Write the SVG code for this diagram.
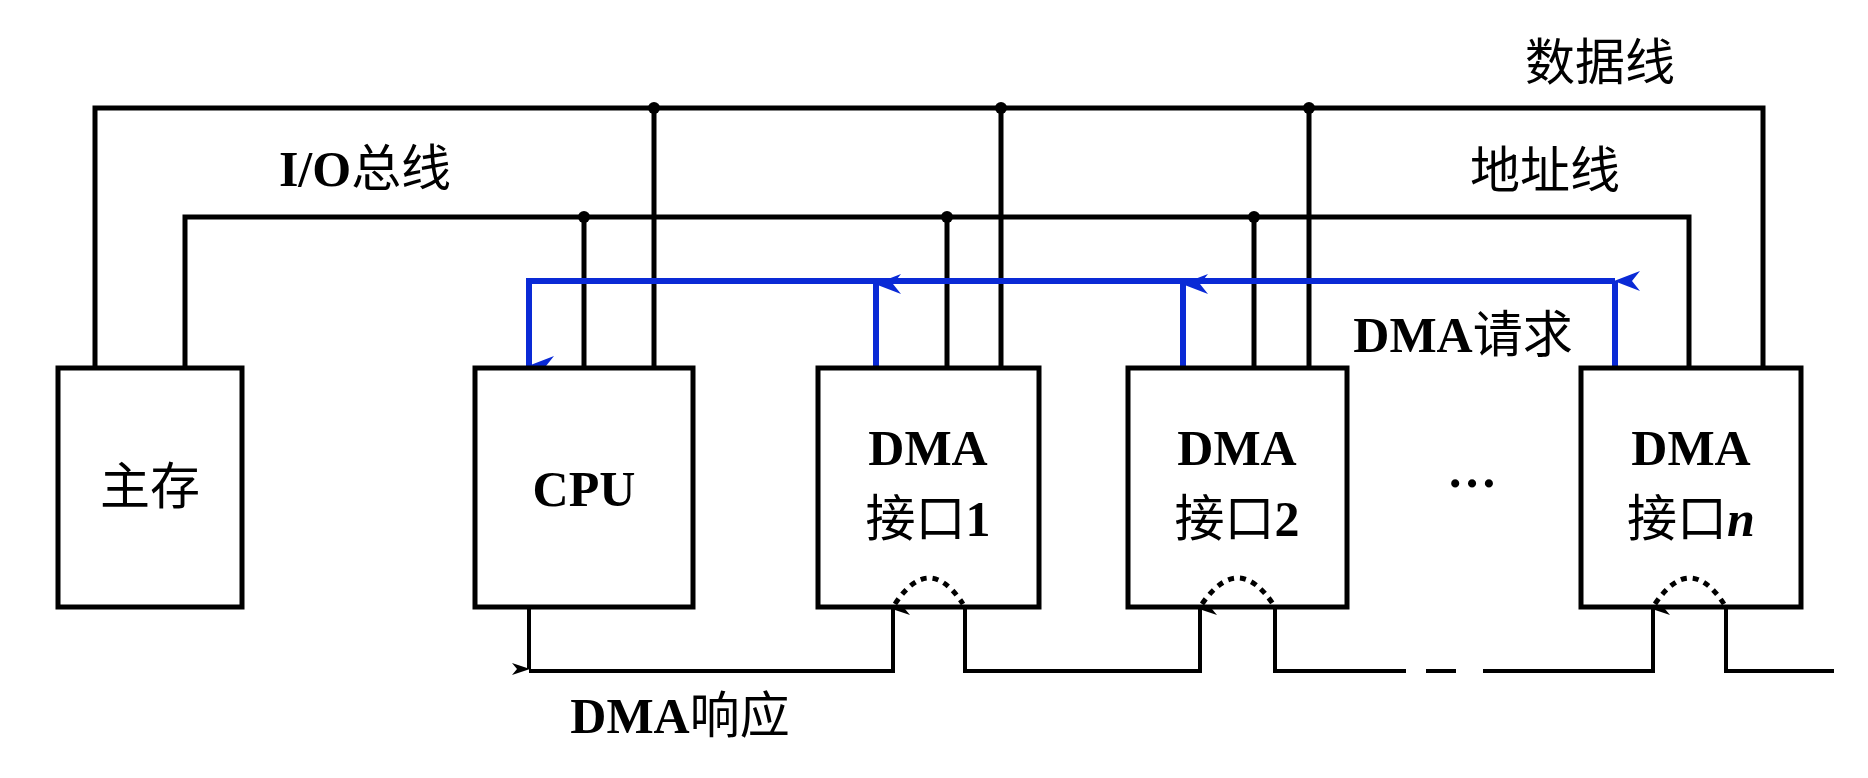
<svg xmlns="http://www.w3.org/2000/svg" width="1868" height="778" viewBox="0 0 1868 778">
<style>
.box{fill:#fff;stroke:#000;stroke-width:5}
.ln{fill:none;stroke:#000;stroke-width:5}
.thin{fill:none;stroke:#000;stroke-width:4}
.blue{fill:none;stroke:#0a2ad6;stroke-width:6}
.dot{fill:none;stroke:#000;stroke-width:5;stroke-dasharray:6 6}
text{font-family:"Liberation Serif","Noto Sans CJK SC",serif;font-weight:bold;font-size:50px;fill:#000;text-anchor:middle}
.cjk{font-family:"Noto Sans CJK SC","Liberation Serif",sans-serif;font-weight:normal}
</style>
<defs>
<marker id="ab" markerWidth="10" markerHeight="12" refX="5" refY="11" orient="auto-start-reverse" markerUnits="userSpaceOnUse" viewBox="0 0 10 12"><path d="M0,12 L5,0 L10,12 L5,9 Z" fill="#0a2ad6"/></marker>
<marker id="ak" markerWidth="12" markerHeight="18" refX="6" refY="1" orient="auto" markerUnits="userSpaceOnUse" viewBox="0 0 12 18"><path d="M6,0 L12,18 L6,13 L0,18 Z" fill="#000"/></marker>
<marker id="ad" markerWidth="20" markerHeight="26" refX="10" refY="25" orient="auto" markerUnits="userSpaceOnUse" viewBox="0 0 20 26"><path d="M10,26 L20,0 L10,8 L0,0 Z" fill="#0a2ad6"/></marker>
<marker id="au" markerWidth="20" markerHeight="26" refX="10" refY="1" orient="auto" markerUnits="userSpaceOnUse" viewBox="0 0 20 26"><path d="M10,0 L20,26 L10,18 L0,26 Z" fill="#0a2ad6"/></marker>
</defs>
<g id="connectors">
<polyline class="ln" points="95,368 95,108 1763,108 1763,368"/>
<polyline class="ln" points="185,368 185,217 1689,217 1689,368"/>
<line class="ln" x1="654" y1="108" x2="654" y2="368"/><line class="ln" x1="1001" y1="108" x2="1001" y2="368"/><line class="ln" x1="1309" y1="108" x2="1309" y2="368"/>
<line class="ln" x1="584" y1="217" x2="584" y2="368"/><line class="ln" x1="947" y1="217" x2="947" y2="368"/><line class="ln" x1="1254" y1="217" x2="1254" y2="368"/>
<g fill="#000"><circle cx="654" cy="108" r="6"/><circle cx="1001" cy="108" r="6"/><circle cx="1309" cy="108" r="6"/><circle cx="584" cy="217" r="6"/><circle cx="947" cy="217" r="6"/><circle cx="1254" cy="217" r="6"/></g>
<polyline class="blue" points="1615,281 529,281 529,366" marker-end="url(#ad)"/>
<line class="blue" x1="876" y1="368" x2="876" y2="284" marker-end="url(#au)"/>
<line class="blue" x1="1183" y1="368" x2="1183" y2="284" marker-end="url(#au)"/>
<line class="blue" x1="1615" y1="368" x2="1615" y2="281" marker-end="url(#au)"/>
<polyline class="thin" points="529,607 529,669" marker-end="url(#ak)"/>
<polyline class="thin" points="529,671 893,671 893,609" marker-end="url(#ak)"/>
<polyline class="thin" points="965,607 965,671 1200,671 1200,609" marker-end="url(#ak)"/>
<polyline class="thin" points="1275,607 1275,671 1406,671"/>
<line class="thin" x1="1426" y1="671" x2="1456" y2="671"/>
<polyline class="thin" points="1483,671 1653,671 1653,609" marker-end="url(#ak)"/>
<polyline class="thin" points="1726,607 1726,671 1834,671"/>
</g>
<g id="n-mem"><rect class="box" x="58" y="368" width="184" height="239"/><text class="cjk" x="150" y="504">主存</text></g>
<g id="n-cpu"><rect class="box" x="475" y="368" width="218" height="239"/><text x="584" y="506">CPU</text></g>
<g id="n-dma1"><rect class="box" x="818" y="368" width="221" height="239"/><text x="928" y="465">DMA</text><text x="928" y="536"><tspan class="cjk">接口</tspan>1</text><path class="dot" d="M895,604 Q929,552 963,604"/></g>
<g id="n-dma2"><rect class="box" x="1128" y="368" width="219" height="239"/><text x="1237" y="465">DMA</text><text x="1237" y="536"><tspan class="cjk">接口</tspan>2</text><path class="dot" d="M1202,604 Q1238,552 1273,604"/></g>
<g id="n-dman"><rect class="box" x="1581" y="368" width="220" height="239"/><text x="1691" y="465">DMA</text><text x="1691" y="536"><tspan class="cjk">接口</tspan><tspan font-style="italic">n</tspan></text><path class="dot" d="M1655,604 Q1690,552 1724,604"/></g>
<g id="labels">
<text class="cjk" x="1600" y="80">数据线</text>
<text class="cjk" x="1545" y="188">地址线</text>
<text x="365" y="186">I/O<tspan class="cjk">总线</tspan></text>
<text x="1463" y="352">DMA<tspan class="cjk">请求</tspan></text>
<text x="680" y="733">DMA<tspan class="cjk">响应</tspan></text>
<text x="1472" y="487">…</text>
</g>
</svg>
